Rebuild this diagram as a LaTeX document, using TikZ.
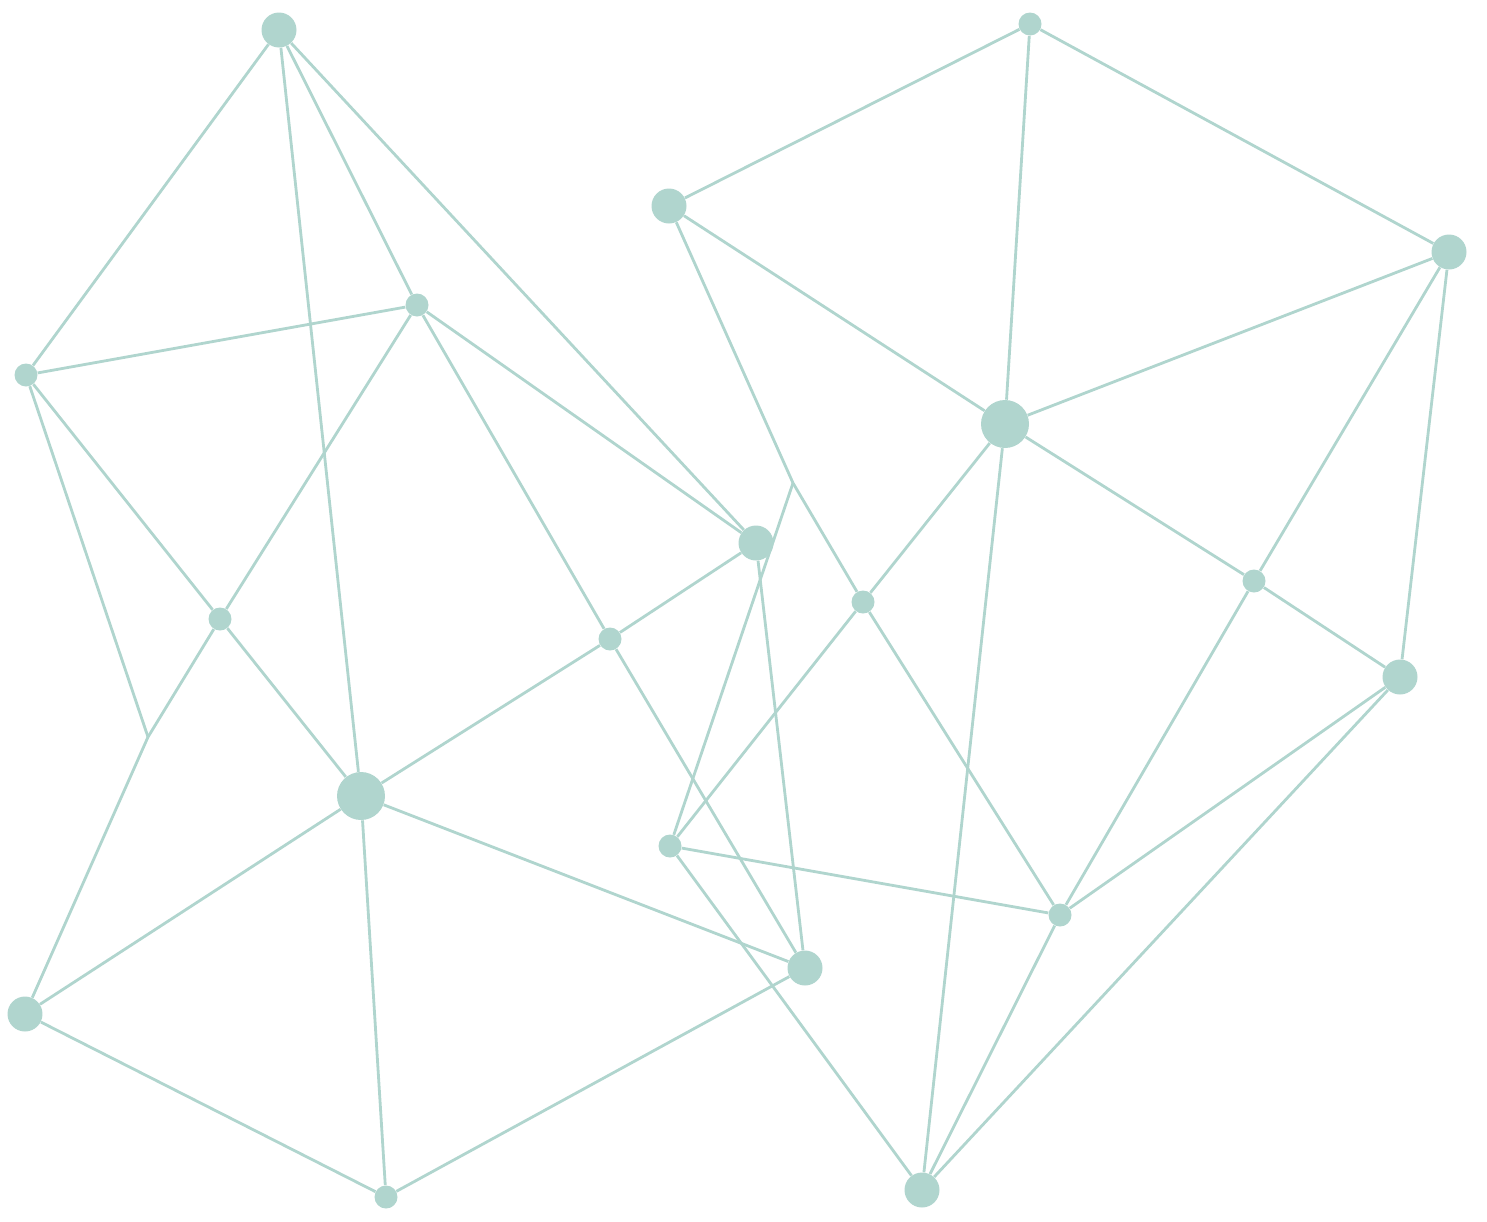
\documentclass[tikz,border=0pt]{standalone}
\usetikzlibrary{positioning}
\definecolor{mint}{RGB}{176,213,206}
\tikzset{
    %Standard link and dot looks
    link/.style={
      draw=mint,
      line width=1.6pt},
    dot/.style={
      circle,
      fill=mint,
      inner sep=0pt},
    small/.style={dot, minimum size=0.46cm},
    medium/.style={dot, minimum size=0.7cm},
    big/.style={dot, minimum size=0.96cm},
}
\begin{document}
\begin{tikzpicture}[x=0.02cm,y=-0.02cm]
    \useasboundingbox (0,0) rectangle (1487,1221);
    % left net
    \node (ltop) [medium] at (279,30) {};
    \node (lwest) [small] at (26,375) {};
    \node (lup) [small] at (417,305) {};
    \node (lmid) [small] at (220,619) {};
    \node (leye) [medium] at (756,543) {};
    \node (lright) [small] at (610,639) {};
    \node (lhub) [big] at (361,796) {};
    \node (lcorner) [medium] at (25,1014) {};
    \node (lfoot) [medium] at (805,968) {};
    \node (lbottom) [small] at (386,1197) {};
    \coordinate (lknee) at (148,737);
    % right net
    \node (rtop) [small] at (1030,24) {};
    \node (rwest) [medium] at (669,206) {};
    \node (reast) [medium] at (1449,252) {};
    \node (rhub) [big] at (1005,424) {};
    \node (rmid) [small] at (863,602) {};
    \node (rright) [small] at (1254,581) {};
    \node (rside) [medium] at (1400,677) {};
    \node (rlow) [small] at (670,846) {};
    \node (rcross) [small] at (1060,915) {};
    \node (rbottom) [medium] at (922,1190) {};
    \coordinate (rknee) at (793,483);

    \draw [link] (ltop) -- (lwest);
    \draw [link] (ltop) -- (lhub);
    \draw [link] (ltop) -- (lup);
    \draw [link] (ltop) -- (leye);
    \draw [link] (lwest) -- (lup);
    \draw [link] (lwest) -- (lmid);
    \draw [link] (lwest) -- (lknee);
    \draw [link] (lmid) -- (lknee) -- (lcorner);
    \draw [link] (lup) -- (lmid);
    \draw [link] (lup) -- (lright);
    \draw [link] (lup) -- (leye);
    \draw [link] (lmid) -- (lhub);
    \draw [link] (leye) -- (lright);
    \draw [link] (leye) -- (lfoot);
    \draw [link] (lright) -- (lhub);
    \draw [link] (lright) -- (lfoot);
    \draw [link] (lhub) -- (lcorner);
    \draw [link] (lhub) -- (lfoot);
    \draw [link] (lhub) -- (lbottom);
    \draw [link] (lcorner) -- (lbottom);
    \draw [link] (lbottom) -- (lfoot);

    \draw [link] (rtop) -- (rwest);
    \draw [link] (rtop) -- (rhub);
    \draw [link] (rtop) -- (reast);
    \draw [link] (rwest) -- (rhub);
    \draw [link] (rwest) -- (rknee) -- (rmid);
    \draw [link] (rlow) -- (rknee);
    \draw [link] (reast) -- (rhub);
    \draw [link] (reast) -- (rright);
    \draw [link] (reast) -- (rside);
    \draw [link] (rhub) -- (rmid);
    \draw [link] (rhub) -- (rright);
    \draw [link] (rhub) -- (rbottom);
    \draw [link] (rmid) -- (rlow);
    \draw [link] (rmid) -- (rcross);
    \draw [link] (rright) -- (rside);
    \draw [link] (rright) -- (rcross);
    \draw [link] (rside) -- (rcross);
    \draw [link] (rside) -- (rbottom);
    \draw [link] (rlow) -- (rcross);
    \draw [link] (rlow) -- (rbottom);
    \draw [link] (rcross) -- (rbottom);
\end{tikzpicture}
\end{document}
